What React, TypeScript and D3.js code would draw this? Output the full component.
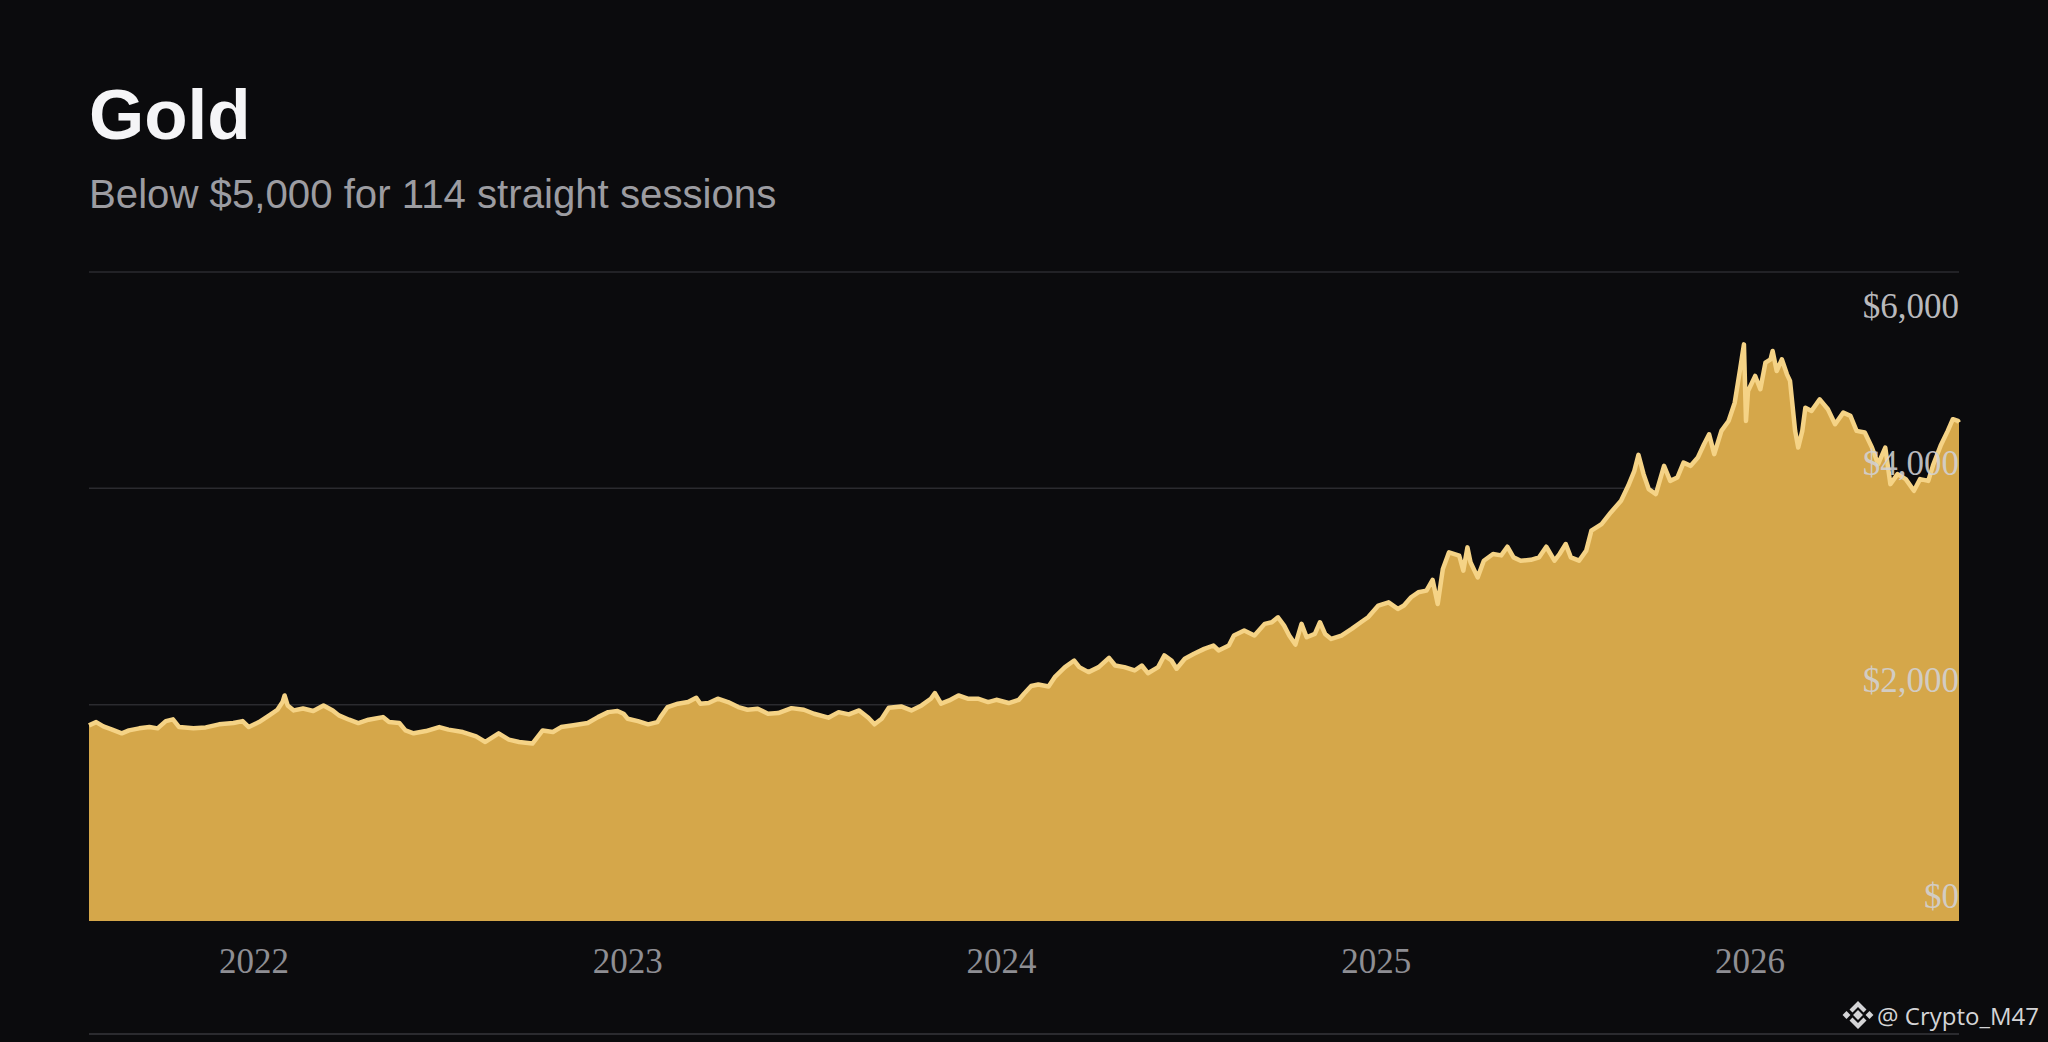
import React, { useMemo } from "react";
import * as d3 from "d3";

const TITLE = "Gold";
const SUBTITLE = "Below $5,000 for 114 straight sessions";
const WATERMARK = "@ Crypto_M47";

const DATES: string[] = [
  "2021-07-24","2021-07-31","2021-08-07","2021-08-15","2021-08-25","2021-09-01","2021-09-11","2021-09-21","2021-09-29","2021-10-07",
  "2021-10-14","2021-10-20","2021-11-03","2021-11-15","2021-11-28","2021-12-12","2021-12-21","2021-12-27","2022-01-06","2022-01-16",
  "2022-01-24","2022-01-29","2022-01-31","2022-02-03","2022-02-09","2022-02-18","2022-02-28","2022-03-10","2022-03-19","2022-03-25",
  "2022-04-04","2022-04-13","2022-04-23","2022-05-07","2022-05-13","2022-05-23","2022-05-29","2022-06-06","2022-06-18","2022-07-01",
  "2022-07-10","2022-07-24","2022-08-06","2022-08-15","2022-08-28","2022-09-07","2022-09-17","2022-09-30","2022-10-10","2022-10-20",
  "2022-10-28","2022-11-09","2022-11-23","2022-12-03","2022-12-13","2022-12-22","2022-12-28","2023-01-01","2023-01-11","2023-01-21",
  "2023-01-30","2023-02-02","2023-02-09","2023-02-19","2023-03-01","2023-03-09","2023-03-13","2023-03-21","2023-03-30","2023-04-09",
  "2023-04-19","2023-04-28","2023-05-08","2023-05-18","2023-05-28","2023-06-10","2023-06-22","2023-07-02","2023-07-16","2023-07-26",
  "2023-08-05","2023-08-15","2023-08-24","2023-08-30","2023-09-06","2023-09-13","2023-09-25","2023-10-05","2023-10-15","2023-10-24",
  "2023-10-28","2023-11-03","2023-11-11","2023-11-20","2023-11-29","2023-12-09","2023-12-19","2023-12-27","2024-01-08","2024-01-18",
  "2024-01-23","2024-01-30","2024-02-06","2024-02-16","2024-02-22","2024-03-03","2024-03-12","2024-03-17","2024-03-26","2024-04-05",
  "2024-04-15","2024-04-21","2024-04-30","2024-05-10","2024-05-17","2024-05-23","2024-06-02","2024-06-08","2024-06-15","2024-06-20",
  "2024-06-28","2024-07-07","2024-07-17","2024-07-26","2024-07-31","2024-08-10","2024-08-15","2024-08-25","2024-09-04","2024-09-14",
  "2024-09-21","2024-09-27","2024-10-03","2024-10-08","2024-10-14","2024-10-20","2024-10-25","2024-11-02","2024-11-07","2024-11-12",
  "2024-11-18","2024-11-28","2024-12-08","2024-12-17","2024-12-24","2025-01-03","2025-01-13","2025-01-22","2025-01-28","2025-02-04",
  "2025-02-11","2025-02-19","2025-02-25","2025-03-02","2025-03-07","2025-03-13","2025-03-23","2025-03-27","2025-03-31","2025-04-03",
  "2025-04-10","2025-04-16","2025-04-25","2025-05-03","2025-05-09","2025-05-15","2025-05-22","2025-06-01","2025-06-09","2025-06-16",
  "2025-06-24","2025-06-29","2025-07-05","2025-07-10","2025-07-18","2025-07-25","2025-07-30","2025-08-09","2025-08-18","2025-08-28",
  "2025-09-04","2025-09-10","2025-09-14","2025-09-19","2025-09-24","2025-10-01","2025-10-09","2025-10-15","2025-10-22","2025-10-28",
  "2025-11-04","2025-11-11","2025-11-17","2025-11-22","2025-11-27","2025-12-04","2025-12-11","2025-12-17","2025-12-22","2025-12-26",
  "2025-12-28","2025-12-30","2026-01-06","2026-01-11","2026-01-16","2026-01-21","2026-01-23","2026-01-27","2026-02-01","2026-02-06",
  "2026-02-09","2026-02-14","2026-02-17","2026-02-21","2026-02-24","2026-03-02","2026-03-10","2026-03-18","2026-03-25","2026-04-02",
  "2026-04-09","2026-04-15","2026-04-23","2026-04-30","2026-05-06","2026-05-13","2026-05-18","2026-05-25","2026-06-02","2026-06-10",
  "2026-06-16","2026-06-24","2026-06-29","2026-07-06","2026-07-13","2026-07-18","2026-07-23","2026-07-24",
];

const PRICES: number[] = [
  1809,1839,1799,1772,1735,1762,1781,1793,1781,1848,
  1864,1793,1781,1790,1818,1830,1848,1793,1839,1901,
  1953,2024,2085,1993,1947,1965,1941,1993,1947,1901,
  1861,1830,1861,1885,1839,1830,1762,1735,1756,1793,
  1769,1747,1707,1655,1735,1677,1655,1640,1762,1747,
  1793,1809,1830,1885,1931,1941,1916,1870,1848,1818,
  1839,1885,1978,2009,2024,2064,2009,2015,2055,2024,
  1978,1953,1962,1916,1922,1968,1953,1916,1880,1931,
  1910,1947,1880,1818,1870,1972,1984,1947,1993,2055,
  2107,2009,2039,2085,2055,2055,2024,2045,2015,2045,
  2101,2172,2187,2168,2254,2347,2408,2347,2301,2347,
  2433,2362,2347,2316,2362,2291,2347,2455,2408,2332,
  2424,2470,2516,2547,2501,2547,2639,2685,2639,2747,
  2762,2808,2731,2639,2556,2747,2623,2654,2762,2654,
  2608,2639,2701,2762,2808,2916,2946,2885,2916,2993,
  3039,3054,3153,2931,3255,3408,3377,3239,3454,3316,
  3177,3331,3393,3380,3460,3362,3331,3339,3362,3460,
  3331,3393,3485,3362,3331,3424,3608,3670,3777,3885,
  4023,4162,4309,4131,3993,3947,4208,4069,4100,4238,
  4208,4285,4408,4500,4316,4531,4623,4792,5085,5331,
  4623,4900,5039,4916,5162,5193,5270,5085,5193,5054,
  4993,4531,4377,4531,4746,4716,4823,4731,4593,4700,
  4670,4531,4516,4377,4223,4377,4039,4131,4085,3977,
  4085,4069,4223,4393,4531,4639,4623,4608,
];

const Y_TICKS: number[] = [0, 2000, 4000, 6000];
const X_TICKS: string[] = ["2022-01-01", "2023-01-01", "2024-01-01", "2025-01-01", "2026-01-01"];
const X_DOMAIN: string[] = ["2021-07-24", "2026-07-24"];

const W = 2048;
const H = 1042;
const LEFT = 89;
const RIGHT = 1959;
const TOP = 272;
const BOTTOM = 921;

export default function App() {
  const parse = d3.utcParse("%Y-%m-%d");
  const data = useMemo(
    () => DATES.map((d, i) => ({ date: parse(d) as Date, value: PRICES[i] })),
    []
  );
  const x = d3
    .scaleUtc()
    .domain(X_DOMAIN.map((d) => parse(d) as Date))
    .range([LEFT, RIGHT]);
  const y = d3.scaleLinear().domain([0, 6000]).range([BOTTOM, TOP]);

  const area = d3
    .area<{ date: Date; value: number }>()
    .x((d) => x(d.date))
    .y0(y(0))
    .y1((d) => y(d.value));
  const line = d3
    .line<{ date: Date; value: number }>()
    .x((d) => x(d.date))
    .y((d) => y(d.value));

  const fmt = (v: number) => "$" + d3.format(",")(v);

  return (
    <svg
      width={W}
      height={H}
      style={{ position: "absolute", left: 0, top: 0, display: "block" }}
    >
      <rect x={0} y={0} width={W} height={H} fill="#0b0b0d" />
      <text
        x={LEFT}
        y={139}
        fill="#f5f5f7"
        fontFamily="'Liberation Sans', Arial, sans-serif"
        fontWeight="bold"
        fontSize={71}
      >
        {TITLE}
      </text>
      <text
        x={LEFT}
        y={208}
        fill="#9c9ca1"
        fontFamily="'Liberation Sans', Arial, sans-serif"
        fontSize={40.2}
      >
        {SUBTITLE}
      </text>

      {Y_TICKS.filter((v) => v > 0).map((v) => (
        <line
          key={"g" + v}
          x1={LEFT}
          x2={RIGHT}
          y1={y(v)}
          y2={y(v)}
          stroke="#2b2b2f"
          strokeWidth={1.5}
        />
      ))}

      <path d={area(data) || ""} fill="#d5a74a" />
      <path
        d={line(data) || ""}
        fill="none"
        stroke="#f5d386"
        strokeWidth={4.5}
        strokeLinejoin="round"
      />

      {Y_TICKS.map((v) => (
        <text
          key={"yl" + v}
          x={RIGHT}
          y={Math.max(y(v) - 13, TOP + 46)}
          textAnchor="end"
          fill="#d2d2d6"
          fillOpacity={0.88}
          fontFamily="'Liberation Serif', 'Times New Roman', serif"
          fontSize={35}
        >
          {fmt(v)}
        </text>
      ))}

      {X_TICKS.map((t) => {
        const dt = parse(t) as Date;
        return (
          <text
            key={"xl" + t}
            x={x(dt)}
            y={973}
            textAnchor="middle"
            fill="#8e8e93"
            fontFamily="'Liberation Serif', 'Times New Roman', serif"
            fontSize={35}
          >
            {d3.utcFormat("%Y")(dt)}
          </text>
        );
      })}

      <line x1={LEFT} x2={RIGHT} y1={1034} y2={1034} stroke="#2b2b2f" strokeWidth={2} />

      <g transform="translate(1858,1015)" fill="#d4d4d6">
        <rect x={-3.5} y={-3.5} width={7} height={7} transform="rotate(45)" />
        <rect x={-2.8} y={-2.8} width={5.6} height={5.6} transform="translate(-11.5,0) rotate(45)" />
        <rect x={-2.8} y={-2.8} width={5.6} height={5.6} transform="translate(11.5,0) rotate(45)" />
        <path d="M0,-14 L8.5,-5.5 L5.5,-2.5 L0,-8 L-5.5,-2.5 L-8.5,-5.5 Z" />
        <path d="M0,14 L8.5,5.5 L5.5,2.5 L0,8 L-5.5,2.5 L-8.5,5.5 Z" />
      </g>
      <text
        x={2039}
        y={1025}
        textAnchor="end"
        fill="#d4d4d6"
        fontFamily="'Open Sans', 'Noto Sans', sans-serif"
        fontSize={24}
      >
        {WATERMARK}
      </text>
    </svg>
  );
}
